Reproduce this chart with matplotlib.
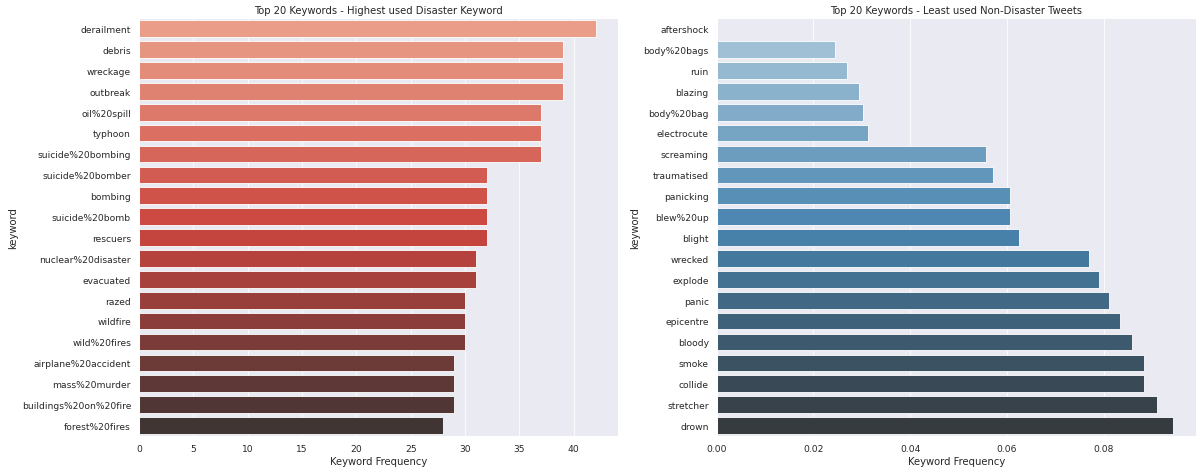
import matplotlib
matplotlib.use("Agg")
import matplotlib.pyplot as plt
import seaborn as sns
import pandas as pd

# --- data ---
disaster_keywords = [
    "derailment", "debris", "wreckage", "outbreak", "oil%20spill", "typhoon",
    "suicide%20bombing", "suicide%20bomber", "bombing", "suicide%20bomb",
    "rescuers", "nuclear%20disaster", "evacuated", "razed", "wildfire",
    "wild%20fires", "airplane%20accident", "mass%20murder",
    "buildings%20on%20fire", "forest%20fires",
]
disaster_counts = [42, 39, 39, 39, 37, 37, 37, 32, 32, 32,
                   32, 31, 31, 30, 30, 30, 29, 29, 29, 28]

non_disaster_keywords = [
    "aftershock", "body%20bags", "ruin", "blazing", "body%20bag", "electrocute",
    "screaming", "traumatised", "panicking", "blew%20up", "blight", "wrecked",
    "explode", "panic", "epicentre", "bloody", "smoke", "collide",
    "stretcher", "drown",
]
non_disaster_freq = [0.0, 0.0244, 0.0270, 0.0294, 0.0303, 0.0313,
                     0.0556, 0.0571, 0.0606, 0.0606, 0.0625, 0.0769,
                     0.0789, 0.0811, 0.0833, 0.0857, 0.0882, 0.0882,
                     0.0909, 0.0943]

df_top = pd.DataFrame({"keyword": disaster_keywords, "freq": disaster_counts})
df_low = pd.DataFrame({"keyword": non_disaster_keywords, "freq": non_disaster_freq})

sns.set_theme(style="darkgrid")
plt.rcParams["font.family"] = ["DejaVu Sans"]

fig, axes = plt.subplots(1, 2, figsize=(20.05, 7.93), dpi=60)
fig.subplots_adjust(left=0.1155, right=0.9942, top=0.960, bottom=0.082, wspace=0.205)

# left: most used keywords in disaster tweets
sns.barplot(data=df_top, x="freq", y="keyword", hue="keyword",
            palette=sns.color_palette("Reds_d", len(df_top)), legend=False, ax=axes[0])
axes[0].set_title("Top 20 Keywords - Highest used Disaster Keyword", fontsize=12)
axes[0].set_xlabel("Keyword Frequency")
axes[0].set_ylabel("keyword")

# right: least used keywords in non-disaster tweets
sns.barplot(data=df_low, x="freq", y="keyword", hue="keyword",
            palette=sns.color_palette("Blues_d", len(df_low)), legend=False, ax=axes[1])
axes[1].set_title("Top 20 Keywords - Least used Non-Disaster Tweets", fontsize=12)
axes[1].set_xlabel("Keyword Frequency")
axes[1].set_ylabel("keyword")

for ax in axes:
    ax.margins(x=0.05)

fig.savefig("out.png", dpi=60)
